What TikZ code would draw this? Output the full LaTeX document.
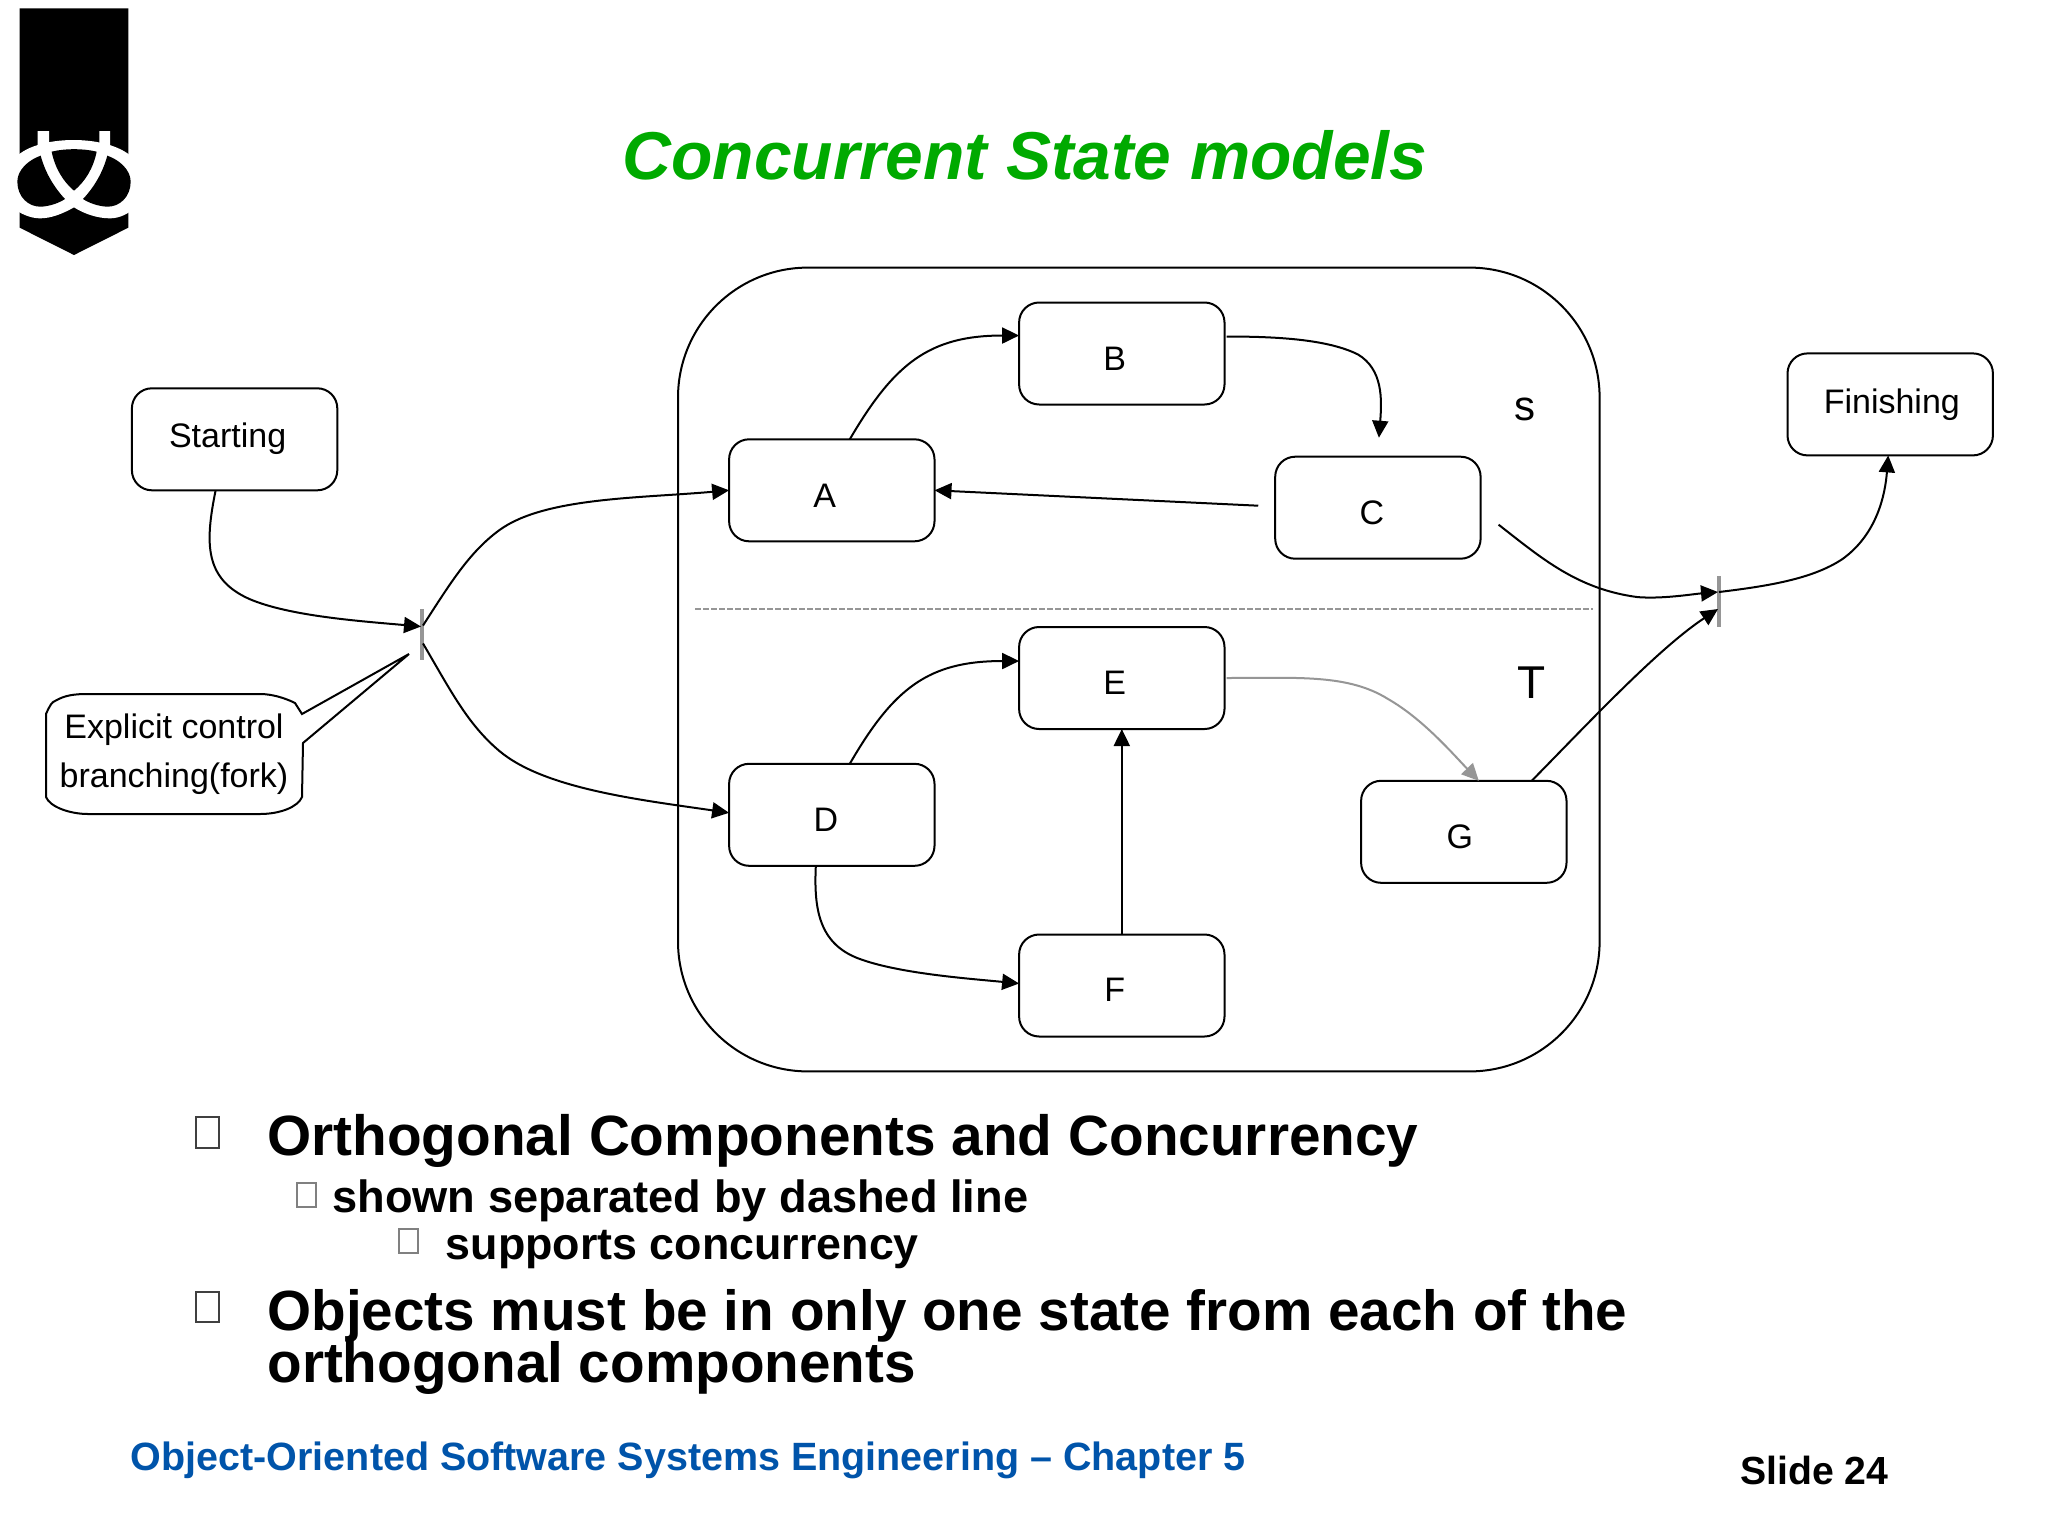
\documentclass[tikz,border=0pt]{standalone}
\usepackage{fontspec}
\setmainfont{Liberation Sans}
\usetikzlibrary{arrows.meta,calc}
\definecolor{titlegreen}{RGB}{0,170,0}
\definecolor{footblue}{RGB}{0,84,170}
\definecolor{bargray}{RGB}{150,150,150}
\tikzset{
  statebox/.style={draw=black,line width=1pt,rounded corners=10pt,fill=white,inner sep=0pt,outer sep=0pt,minimum width=102.7pt,minimum height=51pt},
  tag/.style={font=\fontsize{17}{20}\selectfont},
  conn/.style={draw=black,line width=1pt,-{Triangle[length=8.5pt,width=8pt]}},
  conngray/.style={draw=bargray,line width=1pt,-{Triangle[length=8.5pt,width=8pt]}},
  forkbar/.style={fill=bargray,inner sep=0pt,outer sep=0pt,minimum width=2pt,minimum height=25.5pt},
  bulbox/.style={draw=#1,line width=.7pt},
  bigtext/.style={anchor=base west,inner sep=0pt,font=\bfseries\fontsize{28.33}{32}\selectfont},
  midtext/.style={anchor=base west,inner sep=0pt,font=\bfseries\fontsize{22.6}{26}\selectfont}
}
\begin{document}
\begin{tikzpicture}[x=.5pt,y=-.5pt]
\useasboundingbox (0,0) rectangle (2048,1536);
\fill[white] (0,0) rectangle (2048,1536);
% logo
\begin{scope}[x=.16667pt,y=-.16667pt]
\fill[black] (59,25) -- (385,25) -- (385,683) -- (222,765) -- (59,683) -- cycle;
\fill[white] (40,480) .. controls (100,400) and (340,400) .. (404,480) -- (404,625) .. controls (385,640) and (360,655) .. (330,655) .. controls (290,655) and (250,640) .. (222,622) .. controls (190,640) and (155,655) .. (120,655) .. controls (90,655) and (60,640) .. (40,625) -- cycle;
\fill[white] (113,393) rectangle (147,440) (298,393) rectangle (330,440);
\fill[black] (122,467) .. controls (85,480) and (52,510) .. (52,545) .. controls (52,590) and (85,622) .. (125,620) .. controls (150,618) and (175,610) .. (195,597) .. controls (160,560) and (135,515) .. (122,467) -- cycle;
\fill[black] (322,467) .. controls (359,480) and (392,510) .. (392,545) .. controls (392,590) and (359,622) .. (319,620) .. controls (294,618) and (269,610) .. (249,597) .. controls (284,560) and (309,515) .. (322,467) -- cycle;
\fill[black] (155,455) .. controls (195,445) and (250,445) .. (290,455) .. controls (280,505) and (255,545) .. (222,572) .. controls (190,545) and (165,505) .. (155,455) -- cycle;
\end{scope}
% title
\node[inner sep=0pt,text=titlegreen,font=\bfseries\itshape\fontsize{33.85}{38}\selectfont] (title) at (1025,155.5) {Concurrent State models};
% outer state
\node[draw=black,line width=1pt,rounded corners=65pt,inner sep=0pt,outer sep=0pt,minimum width=460.8pt,minimum height=401.9pt] (outer) at (1138.8,669.5) {};
\coordinate (dashL) at (695,609);
\coordinate (dashR) at (1593,609);
\draw[bargray,line width=1pt,dash pattern=on 3pt off 1pt] (dashL) -- (dashR);
% states
\node[statebox,label={[tag,xshift=-3.5pt,yshift=-2.5pt]center:B}] (B) at (1121.8,353.5) {};
\node[statebox,label={[tag,xshift=-3.5pt,yshift=-2.5pt]center:A}] (A) at (831.8,490.3) {};
\node[statebox,label={[tag,xshift=-3pt,yshift=-2.5pt]center:C}] (C) at (1377.9,507.7) {};
\node[statebox,label={[tag,xshift=-3.5pt,yshift=-2.5pt]center:E}] (E) at (1121.8,678) {};
\node[statebox,label={[tag,xshift=-3pt,yshift=-2.5pt]center:D}] (D) at (831.8,814.8) {};
\node[statebox,label={[tag,xshift=-2pt,yshift=-2.5pt]center:G}] (G) at (1463.8,831.8) {};
\node[statebox,label={[tag,xshift=-3.5pt,yshift=.2pt]center:Starting}] (Starting) at (234.6,439.3) {};
\node[statebox,label={[tag,xshift=-3.5pt,yshift=-2pt]center:F}] (F) at (1121.8,985.5) {};
\node[statebox,label={[tag,xshift=.8pt,yshift=-.2pt]center:Finishing}] (Finishing) at (1890.2,404.4) {};
\node[font=\fontsize{21}{24}\selectfont,inner sep=0pt] (labS) at (1525,409) {s};
\node[font=\fontsize{23}{26}\selectfont,inner sep=0pt] (labT) at (1532,683) {T};
% bars
\node[forkbar] (fork) at (422,634.5) {};
\node[forkbar] (join) at (1719,601) {};
% callout
\draw[black,line width=1pt] (46,714) .. controls (50,705) and (52,702) .. (55,701) .. controls (65,695) and (75,694) .. (88,694) -- (260,694) .. controls (272,694) and (285,698) .. (295,703) -- (302,714) -- (409,654) -- (303,743) -- (302,797) .. controls (298,807) and (280,814) .. (260,814) -- (88,814) .. controls (70,814) and (50,807) .. (46,797) -- cycle;
\node[font=\fontsize{17}{24.3}\selectfont,align=center,inner sep=0pt] (callout) at (174,754) {Explicit control\\branching(fork)};
% connectors
\begin{scope}[scale=.9985]
\draw[conn] ($(Starting.south)+(-19,0)$) .. controls (205,545) and (205,580) .. (250,600) .. controls (290,617) and (360,622) .. ($(fork.center)+(-1,-8)$);
\draw[conn] ($(fork.center)+(1,-9)$) .. controls (451,584) and (470,553) .. (500,531) .. controls (545,498) and (641,499) .. (A.west);
\draw[conn] ($(fork.center)+(1,9)$) .. controls (451,691) and (468,725) .. (500,752) .. controls (545,790) and (641,801) .. ($(D.west)+(0,-2)$);
\draw[conn] ($(A.north)+(18,0)$) .. controls (895,365) and (930,336) .. ($(B.west)+(0,-18)$);
\draw[conn] ($(D.north)+(18,0)$) .. controls (895,689) and (930,662) .. ($(E.west)+(0,-17)$);
\draw[conn] ($(B.east)+(2,-17)$) .. controls (1280,337) and (1330,340) .. (1360,355) .. controls (1385,370) and (1384,400) .. ($(C.north)+(1,-19)$);
\draw[conn] ($(C.west)+(-17,-2)$) -- (A.east);
\draw[conn] ($(C.east)+(18,17)$) .. controls (1545,560) and (1580,590) .. (1640,598) .. controls (1665,600) and (1695,595) .. ($(join.center)+(-1,-9)$);
\draw[conn] ($(join.center)+(0,-9)$) .. controls (1770,587) and (1815,580) .. (1845,560) .. controls (1880,535) and (1888,495) .. ($(Finishing.south)+(-2,0)$);
\draw[conn] ($(G.north)+(68,0)$) .. controls (1590,725) and (1660,650) .. ($(join.center)+(-1,8)$);
\draw[conngray] ($(E.east)+(2,0)$) .. controls (1300,679) and (1350,675) .. (1390,700) .. controls (1425,720) and (1455,755) .. ($(G.north)+(15,0)$);
\draw[conn] (F.north) -- (E.south);
\draw[conn] ($(D.south)+(-16,0)$) .. controls (815,910) and (820,945) .. (860,960) .. controls (900,975) and (970,980) .. ($(F.west)+(0,-2)$);
\end{scope}
% bullets
\draw[bulbox=black!75] (196,1117) rectangle (219,1148);
\draw[bulbox=black!50] (297,1183) rectangle (316,1207);
\draw[bulbox=black!50] (399,1229) rectangle (418,1253);
\draw[bulbox=black!75] (196,1292) rectangle (219,1322);
\node[bigtext,font=\bfseries\fontsize{28.38}{32}\selectfont] (t1) at (267,1155) {Orthogonal Components and Concurrency};
\node[midtext] (t2) at (332,1212) {shown separated by dashed line};
\node[midtext,font=\bfseries\fontsize{22.4}{26}\selectfont] (t3) at (445.5,1259) {supports concurrency};
\node[bigtext] (t4) at (267,1330) {Objects must be in only one state from each of the};
\node[bigtext] (t5) at (267,1382) {orthogonal components};
% footer
\node[anchor=base west,inner sep=0pt,text=footblue,font=\bfseries\fontsize{19.74}{23}\selectfont] (foot) at (130.5,1470) {Object-Oriented Software Systems Engineering – Chapter 5};
\node[anchor=base west,inner sep=0pt,font=\bfseries\fontsize{19.6}{23}\selectfont] (slide) at (1740,1484) {Slide 24};
\end{tikzpicture}
\end{document}
